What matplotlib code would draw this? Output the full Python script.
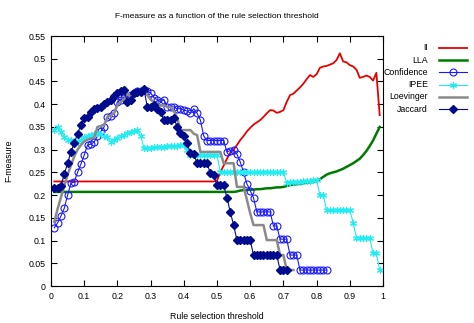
import numpy as np
import matplotlib
matplotlib.use("Agg")
from matplotlib import pyplot as plt
from matplotlib.lines import Line2D

plt.rcParams['font.family'] = ['Liberation Sans', 'DejaVu Sans']

# thresholds 0.01 .. 0.99
thr = [i / 100 for i in range(1, 100)]

ii = [0.23] * 49 + [
    0.232, 0.25, 0.265, 0.28, 0.293, 0.30, 0.31, 0.321, 0.33, 0.34,
    0.348, 0.355, 0.36, 0.365, 0.372, 0.38, 0.387, 0.386, 0.381, 0.383,
    0.387, 0.405, 0.42, 0.423, 0.43, 0.437, 0.445, 0.455, 0.464, 0.46,
    0.466, 0.48, 0.483, 0.484, 0.487, 0.49, 0.497, 0.512, 0.494, 0.492,
    0.486, 0.483, 0.476, 0.458, 0.46, 0.463, 0.46, 0.452, 0.469, 0.376]

lla = [0.207] * 55 + [
    0.208, 0.21, 0.211, 0.211, 0.212, 0.212, 0.213, 0.213, 0.214, 0.215,
    0.215, 0.216, 0.217, 0.217, 0.218, 0.22, 0.222, 0.223, 0.224, 0.225,
    0.226, 0.227, 0.228, 0.229, 0.231, 0.235, 0.24, 0.245, 0.248, 0.25,
    0.252, 0.255, 0.258, 0.262, 0.266, 0.27, 0.275, 0.28, 0.288, 0.297,
    0.308, 0.32, 0.335, 0.35]

confidence = [
    0.128, 0.139, 0.154, 0.171, 0.20, 0.226, 0.229, 0.25, 0.268, 0.288,
    0.31, 0.312, 0.317, 0.33, 0.34, 0.35, 0.372, 0.375, 0.38, 0.405,
    0.41, 0.413, 0.416, 0.42, 0.425, 0.428, 0.43, 0.432, 0.428, 0.425,
    0.414, 0.41, 0.405, 0.41, 0.394, 0.394, 0.394, 0.39, 0.39, 0.387,
    0.385, 0.38, 0.39, 0.38, 0.365, 0.33, 0.32, 0.32, 0.32, 0.32,
    0.32, 0.32, 0.295, 0.298, 0.30, 0.29, 0.273, 0.25, 0.225, 0.21,
    0.194, 0.163, 0.163, 0.163, 0.163, 0.163, 0.132, 0.132, 0.103, 0.103,
    0.103, 0.068, 0.068, 0.068, 0.035, 0.035, 0.035, 0.035, 0.035, 0.035,
    0.035, 0.035, 0.035]

ipee = [
    0.343, 0.35, 0.339, 0.328, 0.322, 0.321, 0.318, 0.317, 0.322, 0.328,
    0.33, 0.332, 0.334, 0.336, 0.334, 0.33, 0.328, 0.317, 0.322, 0.326,
    0.33, 0.332, 0.336, 0.339, 0.341, 0.343, 0.33, 0.304, 0.304, 0.304,
    0.305, 0.305, 0.306, 0.306, 0.307, 0.308, 0.308, 0.309, 0.31, 0.31,
    0.30, 0.288, 0.288, 0.288, 0.288, 0.288, 0.288, 0.288, 0.288, 0.288,
    0.251, 0.251, 0.251, 0.251, 0.251, 0.251, 0.251, 0.251, 0.251, 0.251,
    0.251, 0.251, 0.251, 0.251, 0.251, 0.251, 0.251, 0.251, 0.251, 0.251,
    0.227, 0.228, 0.228, 0.229, 0.229, 0.23, 0.231, 0.232, 0.233, 0.233,
    0.20, 0.20, 0.167, 0.167, 0.167, 0.167, 0.167, 0.167, 0.167, 0.167,
    0.139, 0.106, 0.106, 0.106, 0.106, 0.106, 0.072, 0.072, 0.035]

loevinger = [
    0.141, 0.17, 0.195, 0.22, 0.245, 0.265, 0.285, 0.30, 0.31, 0.318,
    0.322, 0.324, 0.326, 0.35, 0.352, 0.354, 0.372, 0.376, 0.38, 0.398,
    0.405, 0.41, 0.424, 0.415, 0.42, 0.425, 0.428, 0.431, 0.42, 0.41,
    0.405, 0.40, 0.398, 0.398, 0.394, 0.394, 0.385, 0.37, 0.343, 0.343,
    0.343, 0.343, 0.335, 0.332, 0.295, 0.295, 0.295, 0.295, 0.295, 0.295,
    0.295, 0.27, 0.27, 0.27, 0.27, 0.218, 0.218, 0.218, 0.19, 0.16,
    0.134, 0.134, 0.134, 0.134, 0.101, 0.101, 0.101, 0.101, 0.068, 0.068,
    0.035, 0.035, 0.035]

jaccard = [
    0.215, 0.215, 0.22, 0.246, 0.27, 0.295, 0.314, 0.335, 0.355, 0.37,
    0.372, 0.383, 0.39, 0.392, 0.394, 0.40, 0.405, 0.41, 0.418, 0.424,
    0.428, 0.431, 0.405, 0.41, 0.424, 0.427, 0.427, 0.433, 0.394, 0.394,
    0.398, 0.39, 0.383, 0.365, 0.365, 0.365, 0.37, 0.35, 0.337, 0.33,
    0.314, 0.292, 0.29, 0.27, 0.27, 0.27, 0.27, 0.248, 0.244, 0.222,
    0.222, 0.222, 0.194, 0.163, 0.134, 0.101, 0.101, 0.101, 0.101, 0.101,
    0.068, 0.068, 0.068, 0.068, 0.068, 0.068, 0.068, 0.068, 0.035, 0.035,
    0.035]

xticks = [i / 10 for i in range(11)]
xlabels = ['0', '0.1', '0.2', '0.3', '0.4', '0.5', '0.6', '0.7', '0.8', '0.9', '1']
yticks = [i * 0.05 for i in range(12)]
ylabels = ['0', '0.05', '0.1', '0.15', '0.2', '0.25', '0.3', '0.35', '0.4', '0.45', '0.5', '0.55']

series = [
    ('II', ii, dict(color='#e80000', lw=1.3)),
    ('LLA', lla, dict(color='#007a00', lw=1.8)),
    ('Confidence', confidence, dict(color='#1a1aff', lw=0.8, marker='o', ms=5,
                                    mfc='none', mew=0.8)),
    ('IPEE', ipee, dict(color='#22ecf0', lw=0.8, marker=(6, 2, 0), ms=5, mew=0.8)),
    ('Loevinger', loevinger, dict(color='#8a8a8a', lw=1.8)),
    ('Jaccard', jaccard, dict(color='#000a8c', lw=0.8, marker='D', ms=4.5,
                              mec='#000a8c')),
]

fig = plt.figure(figsize=(4.74, 3.23), dpi=100)
ax = fig.add_axes([51 / 474, 37 / 323, 332 / 474, 250 / 323])

for name, vals, style in series:
    ax.plot(thr[:len(vals)], vals, **style)

ax.set_xlim(0, 1)
ax.set_ylim(0, 0.55)
ax.set_xticks(xticks)
ax.set_xticklabels(xlabels)
ax.set_yticks(yticks)
ax.set_yticklabels(ylabels)
ax.tick_params(direction='in', top=True, right=True, length=4, width=0.8,
               labelsize=6.3, pad=4)
for sp in ax.spines.values():
    sp.set_linewidth(0.8)

ax.set_title('F-measure as a function of the rule selection threshold',
             fontsize=6, pad=13)
ax.set_xlabel('Rule selection threshold', fontsize=6.3, labelpad=8)
ax.set_ylabel('F-measure', fontsize=6.3, labelpad=11)

# key on the right, text right-aligned before the sample line
for k, (name, vals, style) in enumerate(series):
    yk = 1 - (48 + 12.2 * k) / 323
    fig.text(428 / 474, yk, name, ha='right', va='center', fontsize=6.3)
    fig.add_artist(Line2D([439 / 474, 453 / 474, 467 / 474], [yk, yk, yk],
                          transform=fig.transFigure, markevery=[1],
                          **style))

fig.savefig('out.png', dpi=100)
